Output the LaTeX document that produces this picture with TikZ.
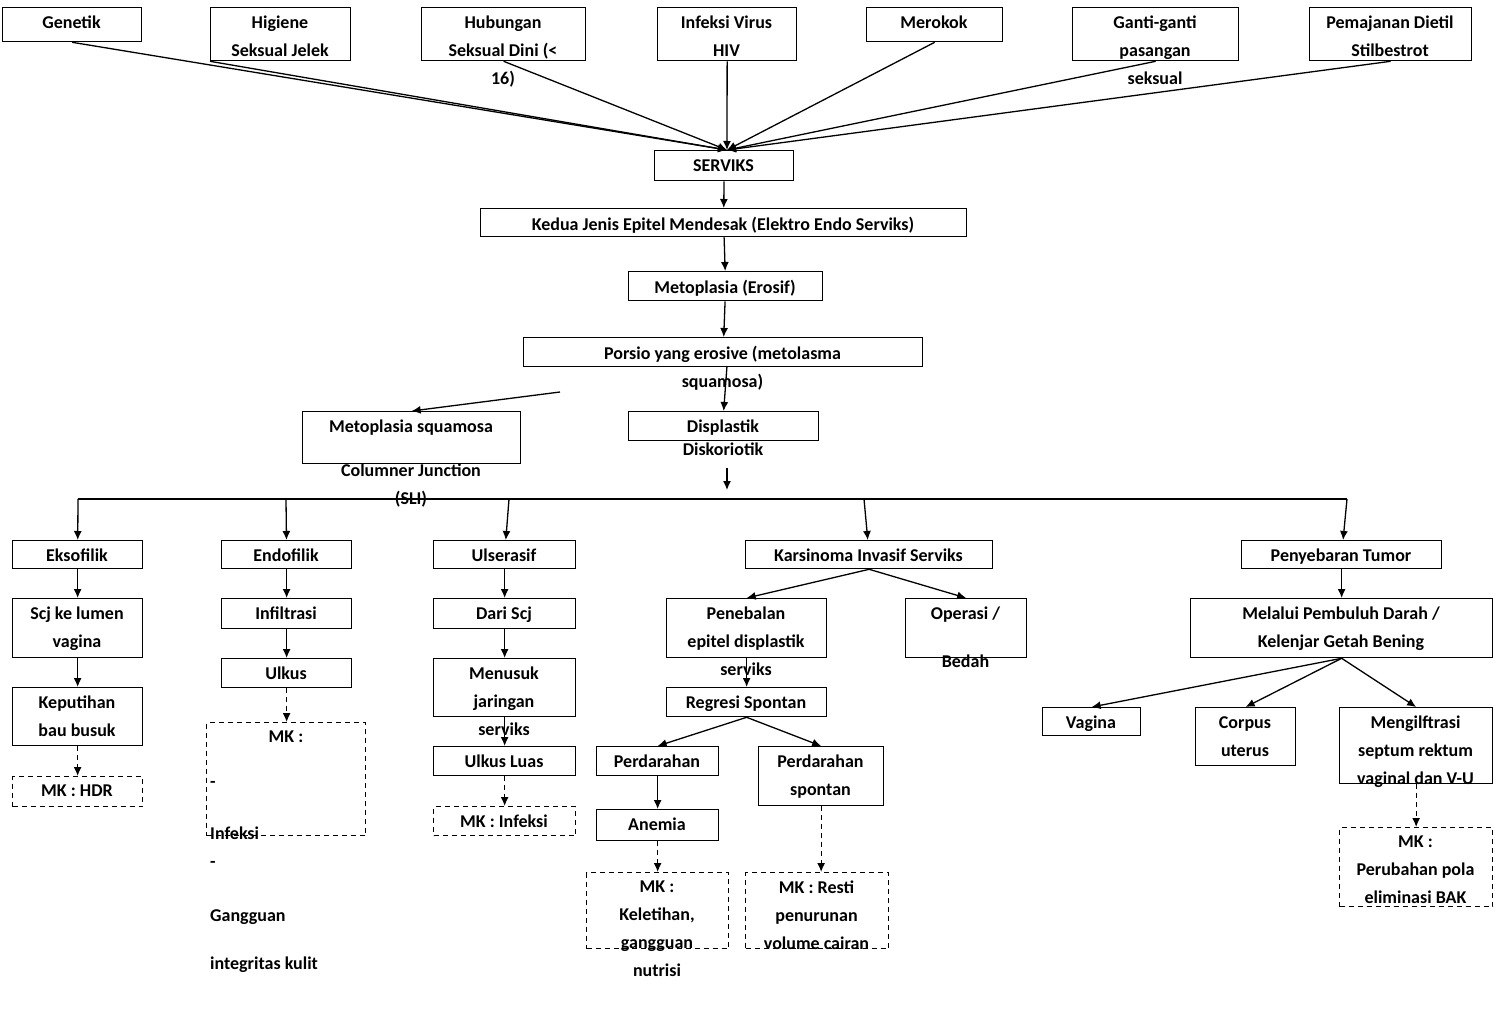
\documentclass[tikz,border=0pt]{standalone}
\usepackage{fontspec}
\setmainfont{Carlito}
\usetikzlibrary{arrows.meta}
\begin{document}
\begin{tikzpicture}[x=1pt,y=-1pt,
  every node/.style={font=\bfseries\fontsize{18}{28}\selectfont},
  bx/.style={draw,line width=1.3pt,inner sep=0pt,anchor=north west},
  dbx/.style={bx,dash pattern=on 5pt off 4pt},
  tx/.style={anchor=north,inner sep=0pt,align=center},
  ar/.style={line width=1.3pt,-{Latex[length=9pt,width=8pt]}},
  dar/.style={ar,dash pattern=on 5pt off 4pt}]
\useasboundingbox (0,0) rectangle (1508,1035);
\newcommand\bx[7][bx]{\node[#1,minimum width={#5-#3},minimum height={#6-#4}] (#2) at (#3,#4) {};
  \node[tx] at ({(#3+#5)/2},#4+9) {#7};}
% top row
\bx{gen}{2}{7}{141}{41}{Genetik}
\bx{hig}{210}{7}{350}{60}{Higiene\\Seksual Jelek}
\bx{hub}{421}{7}{585}{60}{Hubungan\\Seksual Dini (<\\16)}
\bx{hiv}{657}{7}{796}{60}{Infeksi Virus\\HIV}
\bx{mer}{866}{7}{1002}{41}{Merokok}
\bx{gan}{1072}{7}{1238}{60}{Ganti-ganti\\pasangan\\seksual}
\bx{pem}{1309}{7}{1471}{60}{Pemajanan Dietil\\Stilbestrot}
\bx{ser}{654}{150}{793}{180}{SERVIKS}
\bx{ked}{480}{208}{966}{236}{Kedua Jenis Epitel Mendesak (Elektro Endo Serviks)}
\bx{met}{628}{271}{822}{300}{Metoplasia (Erosif)}
\bx{por}{523}{337}{922}{366}{Porsio yang erosive  (metolasma\\squamosa)}
\bx{msq}{302}{411}{520}{463}{Metoplasia squamosa}
\node[tx] at (411,464) {Columner Junction\\(SLI)};
\bx{dis}{628}{411}{818}{440}{Displastik}
\node[tx] (dk) at (723,443) {Diskoriotik};
\coordinate (c) at (727,150);
\foreach \s in {gen.south,hig.south west,hub.south,hiv.south,mer.south,gan.south,pem.south}
  \draw[ar] (\s) -- (c);
\draw[ar] (ser) -- (ked);
\draw[ar] (ked) -- (met);
\draw[ar] (met) -- (por);
\draw[ar] (560,392) -- (msq.north);
\draw[ar] (727,366) -- (dis.north);
\coordinate (hl) at (727,490);
\draw[ar] (727,468) -- (hl);
\draw[line width=1.3pt] (78,499) -- (1347,499);
% columns
\bx{eks}{12}{540}{142}{568}{Eksofilik}
\bx{scj}{12}{598}{142}{657}{Scj ke lumen\\vagina}
\bx{kep}{12}{687}{142}{745}{Keputihan\\bau busuk}
\bx[dbx]{hdr}{12}{776}{142}{806}{MK : HDR}
\bx{end}{221}{540}{351}{568}{Endofilik}
\bx{inf}{221}{598}{351}{628}{Infiltrasi}
\bx{ulk}{221}{658}{351}{687}{Ulkus}
\node[dbx,minimum width=159,minimum height=113] (mk1) at (206,722) {};
\node[tx] at (286,731) {MK :};
\node[anchor=north west,inner sep=0pt,align=left] at (210,781) {-\\[0pt]\\[-4pt]Infeksi\\[0pt]-\\[-4pt]\\[2pt]Gangguan\\[20pt]integritas kulit};
\bx{uls}{433}{540}{575}{568}{Ulserasif}
\bx{dar}{433}{598}{575}{628}{Dari Scj}
\bx{men}{433}{658}{575}{716}{Menusuk\\jaringan\\serviks}
\bx{ull}{433}{746}{575}{775}{Ulkus Luas}
\bx[dbx]{mki}{433}{806}{575}{835}{MK : Infeksi}
\bx{kar}{745}{540}{992}{568}{Karsinoma Invasif Serviks}
\bx{pen}{666}{598}{826}{657}{Penebalan\\epitel displastik\\serviks}
\bx{ope}{905}{598}{1026}{657}{Operasi /\\[20pt]Bedah}
\bx{reg}{666}{687}{826}{716}{Regresi Spontan}
\bx{per}{596}{746}{718}{775}{Perdarahan}
\bx{pes}{758}{746}{883}{805}{Perdarahan\\spontan}
\bx{ane}{596}{809}{718}{840}{Anemia}
\bx[dbx]{mkk}{586}{872}{728}{948}{MK :\\Keletihan,\\gangguan\\nutrisi}
\bx[dbx]{mkr}{745}{872}{888}{948}{MK : Resti\\penurunan\\volume cairan}
\bx{pty}{1241}{540}{1441}{568}{Penyebaran Tumor}
\bx{mel}{1190}{598}{1492}{657}{Melalui Pembuluh Darah /\\Kelenjar Getah Bening}
\bx{vag}{1042}{707}{1140}{735}{Vagina}
\bx{cor}{1195}{707}{1295}{765}{Corpus\\uterus}
\bx{mng}{1339}{707}{1492}{783}{Mengilftrasi\\septum rektum\\vaginal dan V-U}
\bx[dbx]{mkp}{1339}{827}{1492}{906}{MK :\\Perubahan pola\\eliminasi BAK}
% drops
\draw[ar] (78,499) -- (eks);
\draw[ar] (286,499) -- (end);
\draw[ar] (509,499) -- (uls);
\draw[ar] (864,499) -- (kar);
\draw[ar] (1347,499) -- (pty);
\draw[ar] (eks) -- (scj); \draw[ar] (scj) -- (kep); \draw[dar] (kep) -- (hdr);
\draw[ar] (end) -- (inf); \draw[ar] (inf) -- (ulk); \draw[dar] (ulk.south) -- (mk1.north-|ulk.south);
\draw[ar] (uls) -- (dar); \draw[ar] (dar) -- (men); \draw[ar] (men) -- (ull); \draw[dar] (ull) -- (mki);
\draw[ar] (kar.south) -- (pen.north); \draw[ar] (kar.south) -- (ope.north);
\draw[ar] (pen) -- (reg);
\draw[ar] (reg.south) -- (per.north); \draw[ar] (reg.south) -- (pes.north);
\draw[ar] (per) -- (ane); \draw[dar] (ane) -- (mkk);
\draw[dar] (pes.south) -- (mkr.north-|pes.south);
\draw[ar] (pty) -- (mel);
\draw[ar] (mel.south) -- (vag.north); \draw[ar] (mel.south) -- (cor.north); \draw[ar] (mel.south) -- (mng.north);
\draw[dar] (mng) -- (mkp);
\end{tikzpicture}
\end{document}
